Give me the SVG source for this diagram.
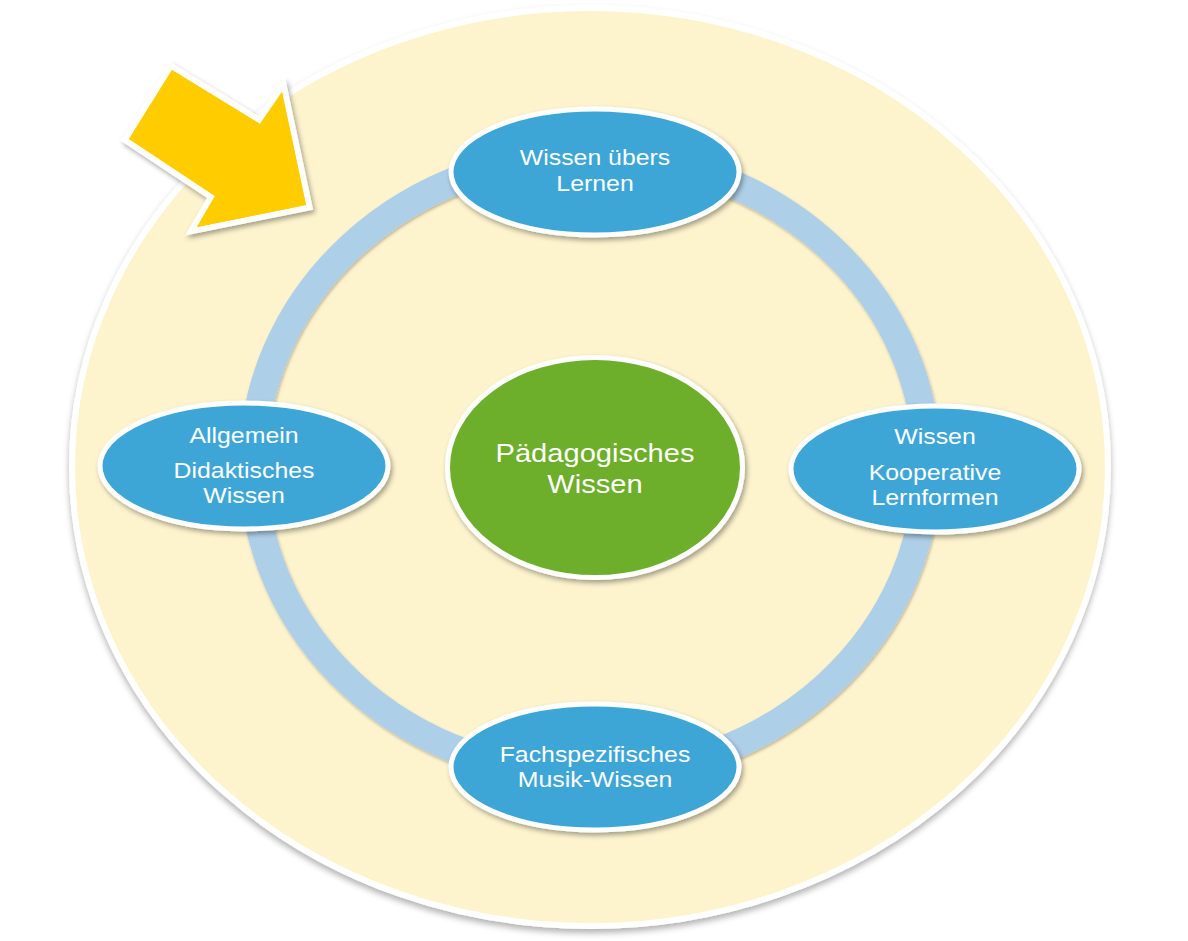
<svg xmlns="http://www.w3.org/2000/svg" width="1188" height="941" viewBox="0 0 1188 941">
<defs>
<filter id="sh" x="-20%" y="-20%" width="140%" height="140%">
<feDropShadow dx="2" dy="3" stdDeviation="2.5" flood-color="#000" flood-opacity="0.35"/>
</filter>
<filter id="shBig" x="-10%" y="-10%" width="120%" height="120%">
<feDropShadow dx="0" dy="4" stdDeviation="3" flood-color="#000" flood-opacity="0.3"/>
</filter>
<filter id="shRing" x="-10%" y="-10%" width="120%" height="120%">
<feDropShadow dx="1" dy="2" stdDeviation="1.5" flood-color="#000" flood-opacity="0.25"/>
</filter>
<style>
.node{fill:#3CA6D7;stroke:#FFFFFF;stroke-width:5;filter:url(#sh)}
.txt{font-family:"Liberation Sans",Arial,sans-serif;font-size:22px;fill:#FFFFFF;text-anchor:middle}
.big{font-family:"Liberation Sans",Arial,sans-serif;font-size:26px;fill:#FFFFFF;text-anchor:middle}
</style>
</defs>
<rect x="0" y="0" width="1188" height="941" fill="#FFFFFF"/>
<g id="background">
<ellipse cx="590" cy="467" rx="518" ry="459" fill="#FDF3CD" stroke="#FFFFFF" stroke-width="6" filter="url(#shBig)"/>
</g>
<g id="connectors">
<ellipse cx="590" cy="465" rx="337" ry="310" fill="none" stroke="#AECFE8" stroke-width="28" filter="url(#shRing)"/>
</g>
<g id="arrow">
<polygon points="172,70 260,124 282,92 306,205 197,227 215,196 129,139" fill="#FFCC00" stroke="#FFFFFF" stroke-width="12" stroke-linejoin="miter" paint-order="stroke" filter="url(#sh)"/>
<polygon points="172,70 260,124 282,92 306,205 197,227 215,196 129,139" fill="#FFCC00"/>
</g>
<g id="node-top">
<ellipse class="node" cx="595" cy="172" rx="144" ry="63"/>
<text class="txt" transform="matrix(1.13 0 0 1 595 165)">Wissen übers</text>
<text class="txt" transform="matrix(1.13 0 0 1 595 191)">Lernen</text>
</g>
<g id="node-left">
<ellipse class="node" cx="244" cy="466" rx="144" ry="63"/>
<text class="txt" transform="matrix(1.13 0 0 1 244 443)">Allgemein</text>
<text class="txt" transform="matrix(1.13 0 0 1 244 478)">Didaktisches</text>
<text class="txt" transform="matrix(1.13 0 0 1 244 503)">Wissen</text>
</g>
<g id="node-right">
<ellipse class="node" cx="935" cy="469" rx="144" ry="63"/>
<text class="txt" transform="matrix(1.13 0 0 1 935 444)">Wissen</text>
<text class="txt" transform="matrix(1.13 0 0 1 935 480)">Kooperative</text>
<text class="txt" transform="matrix(1.13 0 0 1 935 505)">Lernformen</text>
</g>
<g id="node-bottom">
<ellipse class="node" cx="595" cy="767" rx="144" ry="63"/>
<text class="txt" transform="matrix(1.13 0 0 1 595 762)">Fachspezifisches</text>
<text class="txt" transform="matrix(1.13 0 0 1 595 787)">Musik-Wissen</text>
</g>
<g id="node-center">
<ellipse cx="595" cy="467.5" rx="147.5" ry="110" fill="#6DAE2C" stroke="#FFFFFF" stroke-width="5" filter="url(#sh)"/>
<text class="big" transform="matrix(1.12 0 0 1 595 462)">Pädagogisches</text>
<text class="big" transform="matrix(1.12 0 0 1 595 493)">Wissen</text>
</g>
</svg>
